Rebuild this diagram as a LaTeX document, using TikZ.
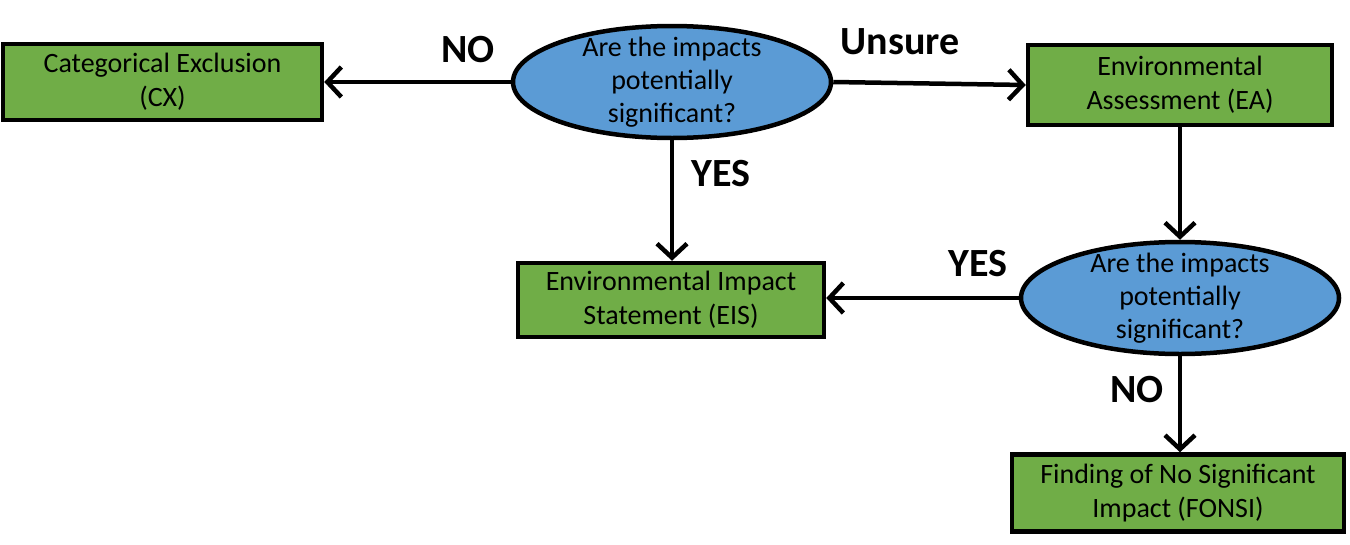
\documentclass[tikz,border=0pt]{standalone}
\usepackage{fontspec}
\setmainfont{Carlito}
\usetikzlibrary{shapes.geometric,arrows.meta,positioning}
\definecolor{boxgreen}{HTML}{70AD47}
\definecolor{askblue}{HTML}{5B9BD5}
\begin{document}
\begin{tikzpicture}[x=1pt,y=-1pt,
  outcome/.style={draw=black,fill=boxgreen,line width=4.5pt,align=center,
    font=\fontsize{28}{34}\selectfont},
  question/.style={ellipse,draw=black,fill=askblue,line width=4.5pt,
    minimum width=318pt,minimum height=112pt,inner sep=0pt},
  asktext/.style={align=center,font=\fontsize{28}{33}\selectfont},
  answer/.style={font=\fontsize{40}{42}\selectfont\bfseries},
  flow/.style={line width=4.5pt,-{Straight Barb[length=14pt,width=30pt]}}]
\useasboundingbox (0,0) rectangle (1350,544);

\node[outcome,minimum width=319pt,minimum height=76pt] (cx) at (162.5,82) {Categorical Exclusion\\(CX)};
\node[question] (q1) at (672,82) {};
\node[asktext] (q1t) at (q1) {Are the impacts\\potentially\\significant?};
\node[outcome,minimum width=304pt,minimum height=80pt] (ea) at (1180,85) {Environmental\\Assessment (EA)};
\node[outcome,minimum width=306pt,minimum height=74pt] (eis) at (671,300) {Environmental Impact\\Statement (EIS)};
\node[question] (q2) at (1180,298) {};
\node[asktext] (q2t) at (q2) {Are the impacts\\potentially\\significant?};
\node[outcome,minimum width=332pt,minimum height=77pt] (fonsi) at (1178,493) {Finding of No Significant\\Impact (FONSI)};

\draw[flow] (q1.west) -- (cx.east);
\draw[flow] (q1.east) -- (ea.west);
\draw[flow] (q1.south) -- (q1.south |- eis.north);
\draw[flow] (ea.south) -- (q2.north);
\draw[flow] (q2.west) -- (q2.west -| eis.east);
\draw[flow] (q2.south) -- (q2.south |- fonsi.north);

\node[answer] (no1) at (468,50) {NO};
\node[answer] (unsure) at (900,42) {Unsure};
\node[answer] (yes1) at (721,174) {YES};
\node[answer] (yes2) at (978,264) {YES};
\node[answer] (no2) at (1137,390) {NO};

\end{tikzpicture}
\end{document}
